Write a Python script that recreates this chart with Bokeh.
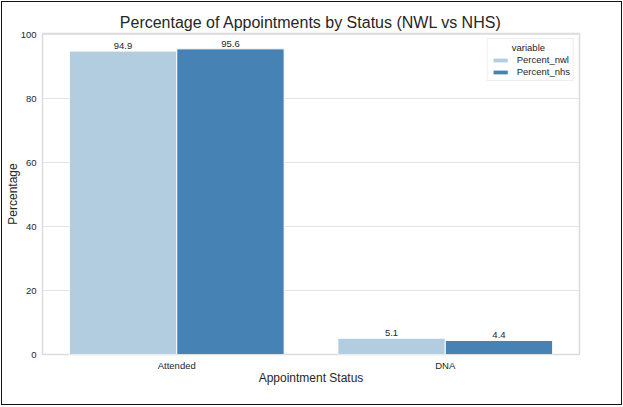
from bokeh.core.properties import value
from bokeh.embed import file_html
from bokeh.models import ColumnDataSource, FactorRange, FixedTicker, Range1d
from bokeh.plotting import figure
from bokeh.resources import INLINE
from bokeh.transform import dodge

# values
statuses = ["Attended", "DNA"]
percent_nwl = [94.9, 5.1]
percent_nhs = [95.6, 4.4]
y_ticks = [0, 20, 40, 60, 80, 100]

FONT = "Liberation Sans"
TXT = "#262626"

source = ColumnDataSource(data=dict(
    status=statuses,
    nwl=percent_nwl,
    nhs=percent_nhs,
    nwl_lbl=["%.1f" % v for v in percent_nwl],
    nhs_lbl=["%.1f" % v for v in percent_nhs],
))

p = figure(x_range=FactorRange(factors=statuses, range_padding=0),
           y_range=Range1d(0, 100.4),
           frame_width=537, frame_height=321,
           min_border_left=30, min_border_right=42,
           min_border_top=31, min_border_bottom=50,
           toolbar_location=None, output_backend="svg",
           title="Percentage of Appointments by Status (NWL vs NHS)")
p.styles = {"border": "1.5px solid #111111", "margin-left": "1px",
            "margin-top": "1px"}

p.title.align = "center"
p.title.text_font = FONT
p.title.text_font_size = "16px"
p.title.text_font_style = "normal"
p.title.text_color = TXT
p.title.standoff = 5

p.vbar(x=dodge("status", -0.2, range=p.x_range), top="nwl", width=0.4,
       source=source, fill_color="#b3cde0", line_color="white",
       line_width=1, legend_label="Percent_nwl")
p.vbar(x=dodge("status", 0.2, range=p.x_range), top="nhs", width=0.4,
       source=source, fill_color="#4682b4", line_color="white",
       line_width=1, legend_label="Percent_nhs")

for col, off in (("nwl", -0.2), ("nhs", 0.2)):
    p.text(x=dodge("status", off, range=p.x_range), y=col, text=col + "_lbl",
           source=source, text_align="center", text_baseline="bottom",
           y_offset=-2, text_font=value(FONT), text_font_size="9.5px",
           text_color=TXT)

p.outline_line_color = "#dcdcdc"
p.outline_line_width = 1.5
p.xgrid.grid_line_color = None
p.ygrid.grid_line_color = "#e3e3e3"
p.ygrid.grid_line_width = 1.2
p.yaxis.ticker = FixedTicker(ticks=y_ticks)

for ax in (p.xaxis[0], p.yaxis[0]):
    ax.axis_line_color = None
    ax.major_tick_line_color = None
    ax.minor_tick_line_color = None
    ax.major_tick_out = 0
    ax.major_label_text_font = FONT
    ax.major_label_text_font_size = "9.5px"
    ax.major_label_text_color = TXT
    ax.axis_label_text_font = FONT
    ax.axis_label_text_font_size = "12px"
    ax.axis_label_text_font_style = "normal"
    ax.axis_label_text_color = TXT

p.xaxis.axis_label = "Appointment Status"
p.yaxis.axis_label = "Percentage"
p.xaxis.major_label_standoff = 5
p.xaxis.axis_label_standoff = -3
p.yaxis.major_label_standoff = 6
p.yaxis.axis_label_standoff = -2

lg = p.legend[0]
lg.title = "\u00a0" * 8 + "variable"
lg.location = "top_right"
lg.title_text_font = FONT
lg.title_text_font_size = "9.5px"
lg.title_text_font_style = "normal"
lg.title_text_color = TXT
lg.title_standoff = 1
lg.label_text_font = FONT
lg.label_text_font_size = "9.5px"
lg.label_text_color = TXT
lg.label_standoff = 7
lg.glyph_width = 19
lg.glyph_height = 6
lg.label_height = 9
lg.spacing = 1
lg.padding = 3
lg.margin = 5
lg.border_line_color = "#dcdcdc"
lg.border_line_width = 1
lg.background_fill_alpha = 0.8

open("out.html", "w").write(file_html(p, INLINE))
